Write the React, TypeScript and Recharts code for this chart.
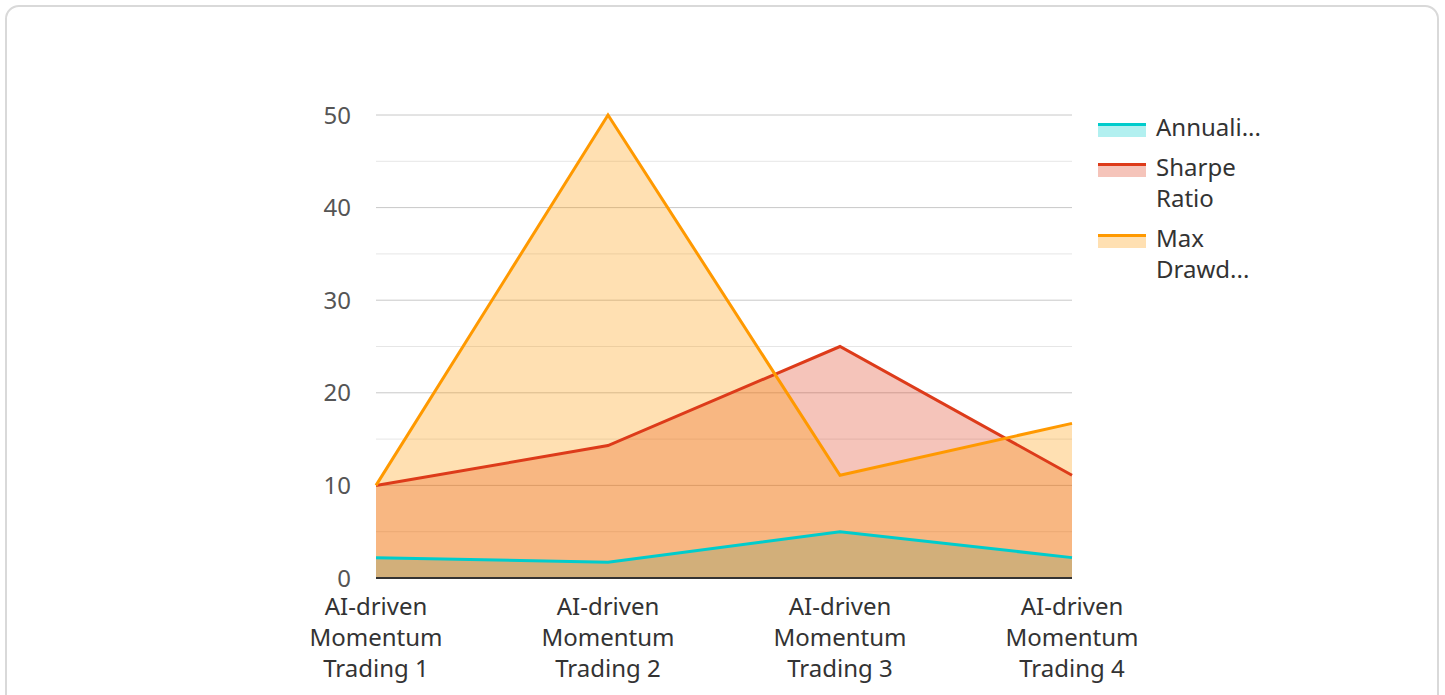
import { AreaChart, Area, XAxis, YAxis, CartesianGrid } from "recharts";

const categories = [
  "AI-driven Momentum Trading 1",
  "AI-driven Momentum Trading 2",
  "AI-driven Momentum Trading 3",
  "AI-driven Momentum Trading 4",
];
const annualized = [2.2, 1.7, 5.0, 2.2];
const sharpe = [10.0, 14.3, 25.0, 11.1];
const maxDrawdown = [10.0, 50.0, 11.1, 16.7];
const yTicks = [0, 10, 20, 30, 40, 50];
const minorTicks = [5, 15, 25, 35, 45];

const series = [
  { key: "annualized", name: "Annualized Return", legend: ["Annuali..."], color: "#00CCCC" },
  { key: "sharpe", name: "Sharpe Ratio", legend: ["Sharpe", "Ratio"], color: "#DD3B1A" },
  { key: "maxDrawdown", name: "Max Drawdown", legend: ["Max", "Drawd..."], color: "#FF9900" },
];

const data = categories.map((c, i) => ({
  name: c,
  annualized: annualized[i],
  sharpe: sharpe[i],
  maxDrawdown: maxDrawdown[i],
}));

const FONT = "'Noto Sans', 'Open Sans', sans-serif";

// rough greedy wrap, ~13px per char at 24px
function wrap(label: string, maxChars = 10) {
  const lines: string[] = [];
  let cur = "";
  for (const w of label.split(" ")) {
    const next = cur ? cur + " " + w : w;
    if (next.length > maxChars && cur) {
      lines.push(cur);
      cur = w;
    } else cur = next;
  }
  if (cur) lines.push(cur);
  return lines;
}

const XTick = (props: any) => {
  const { x, y, payload } = props;
  const lines = wrap(String(payload.value));
  return (
    <text x={x} y={y + 37} textAnchor="middle" fill="#333" fontSize={24} fontFamily={FONT}>
      {lines.map((l, i) => (
        <tspan key={i} x={x} dy={i === 0 ? 0 : 31}>
          {l}
        </tspan>
      ))}
    </text>
  );
};

function ChartLegend() {
  return (
    <div style={{ position: "absolute", left: 1098, top: 111, fontFamily: FONT, fontSize: 24, color: "#333", lineHeight: "31px" }}>
      {series.map((s) => (
        <div key={s.key} style={{ display: "flex", alignItems: "flex-start", marginBottom: 9 }}>
          <div style={{ width: 48, marginTop: 12, marginRight: 10 }}>
            <div style={{ height: 3, background: s.color }} />
            <div style={{ height: 11, background: s.color, opacity: 0.3 }} />
          </div>
          <div>
            {s.legend.map((l) => (
              <div key={l}>{l}</div>
            ))}
          </div>
        </div>
      ))}
    </div>
  );
}

export default function App() {
  return (
    <div style={{ position: "fixed", left: 0, top: 0, width: 1445, height: 695, background: "#fff", overflow: "hidden" }}>
      <div
        style={{
          position: "absolute", left: 5, top: 5, width: 1434, height: 720,
          border: "2px solid #d9d9d9", borderRadius: 14, boxSizing: "border-box",
        }}
      />
      <div style={{ position: "absolute", left: 0, top: 0 }}>
        <AreaChart width={1445} height={695} data={data} margin={{ top: 115, right: 373, bottom: 0, left: 316 }}>
          <CartesianGrid stroke="#e6e6e6" vertical={false} horizontalValues={minorTicks} />
          <CartesianGrid stroke="#c8c8c8" vertical={false} />
          <XAxis
            dataKey="name"
            height={117}
            tickSize={0}
            tickMargin={0}
            tick={<XTick />}
            axisLine={{ stroke: "#333", strokeWidth: 2 }}
            tickLine={false}
            interval={0}
          />
          <YAxis
            width={60}
            domain={[0, 50]}
            ticks={yTicks}
            axisLine={false}
            tickLine={false}
            tickSize={0}
            tickMargin={25}
            tick={{ fill: "#555", fontSize: 24, fontFamily: FONT }}
          />
          {series.map((s) => (
            <Area
              key={s.key + "-fill"}
              dataKey={s.key}
              name={s.name}
              type="linear"
              stroke="none"
              fill={s.color}
              fillOpacity={0.3}
              isAnimationActive={false}
            />
          ))}
          {series.map((s) => (
            <Area
              key={s.key + "-line"}
              dataKey={s.key}
              name={s.name}
              type="linear"
              stroke={s.color}
              strokeWidth={3}
              fill="none"
              dot={false}
              activeDot={false}
              isAnimationActive={false}
            />
          ))}
        </AreaChart>
      </div>
      <ChartLegend />
    </div>
  );
}
